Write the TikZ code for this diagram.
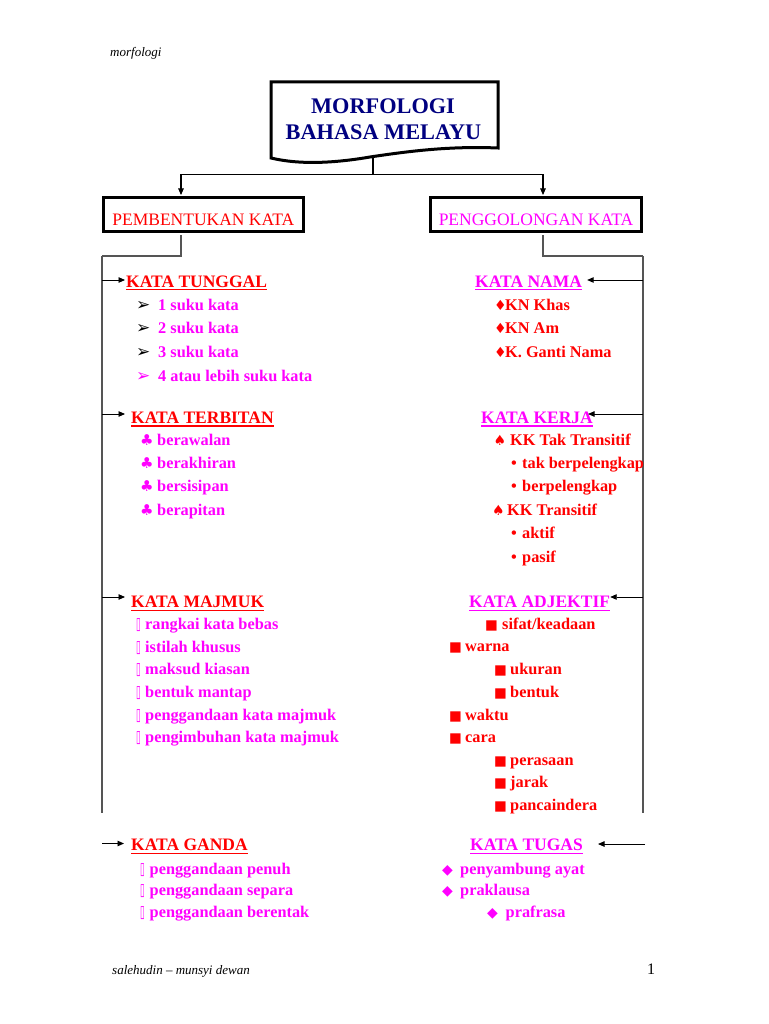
\documentclass[tikz,border=0pt]{standalone}
\usepackage{fontspec}
\usepackage{graphicx}
\setmainfont{Liberation Serif}
\newfontfamily\symf{DejaVu Sans}
\usetikzlibrary{arrows.meta}
\definecolor{navy}{RGB}{0,0,128}
\definecolor{mag}{RGB}{255,0,255}
\definecolor{rd}{RGB}{255,0,0}
\definecolor{sidegray}{RGB}{85,85,85}
\newcommand{\missbox}{{\symf\fontsize{17}{17}\selectfont\scalebox{0.5}[1]{▯}}}
\begin{document}
\begin{tikzpicture}[x=1pt,y=-1pt,
  item/.style={anchor=base west, inner sep=0pt, font=\fontsize{16.3}{18}\selectfont\bfseries},
  hd/.style={anchor=base west, inner sep=0pt, font=\fontsize{17.5}{20}\selectfont\bfseries},
  bul/.style={anchor=base west, inner sep=0pt},
  box/.style={draw=black, line width=3pt, inner sep=0pt, text height=21.4pt, text depth=0pt,
              font=\fontsize{17.5}{20}\selectfont},
  arr/.style={-{Triangle[length=6.5pt,width=5.5pt]}, line width=0.9pt, draw=black},
  conn/.style={line width=1.1pt, draw=black},
  side/.style={line width=1.6pt, draw=sidegray},
  ttl/.style={anchor=base, inner sep=0pt, text=navy, font=\fontsize{22.3}{26}\selectfont\bfseries}
]
\useasboundingbox[fill=white] (0,0) rectangle (768,1024);

% header / footer
\node[anchor=base west, inner sep=0pt, font=\fontsize{13}{15}\selectfont\itshape] (hdr) at (110,57) {morfologi};
\node[anchor=base west, inner sep=0pt, font=\fontsize{13}{15}\selectfont\itshape] (ftr) at (112,974) {salehudin – munsyi dewan};
\node[anchor=base west, inner sep=0pt, font=\fontsize{16}{18}\selectfont] (pg) at (647,974) {1};

% title
\draw[line width=3pt, line join=miter] (271,82) -- (498,82) -- (498,148)
  .. controls (450,146) and (410,151) .. (370,157)
  .. controls (335,163) and (300,165) .. (271,158) -- cycle;
\node[ttl] (ttlA) at (383,114) {MORFOLOGI};
\node[ttl] (ttlB) at (383.5,140) {BAHASA MELAYU};

% main boxes
\node[box, text=rd, minimum width=200, minimum height=34] (pemb) at (203.3,215) {PEMBENTUKAN KATA};
\node[box, text=mag, minimum width=211, minimum height=34] (peng) at (536,215) {PENGGOLONGAN KATA};

% top connectors
\coordinate (tstem) at (373,157);
\coordinate (tbar) at (373,174.5);
\draw[conn] (tstem) -- (tbar);
\draw[conn] (tbar) -| ([xshift=-22.3pt,yshift=4pt]pemb.north);
\draw[conn] (tbar) -| ([xshift=7pt,yshift=4pt]peng.north);
\draw[arr] ([xshift=-22.3pt,yshift=12pt]pemb.north) -- ([xshift=-22.3pt,yshift=1.5pt]pemb.north);
\draw[arr] ([xshift=7pt,yshift=12pt]peng.north) -- ([xshift=7pt,yshift=1.5pt]peng.north);

% side lines
\coordinate (jL) at (102,256);
\coordinate (jLend) at (102,813);
\coordinate (jR) at (643,256);
\coordinate (jRend) at (643,813);
\draw[side, line width=1.3pt] ([xshift=-22.3pt,yshift=-1.5pt]pemb.south) |- (jL);
\draw[side] (jL) -- (jLend);
\draw[side, line width=1.3pt] ([xshift=7pt,yshift=-1.5pt]peng.south) |- (jR);
\draw[side] (jR) -- (jRend);

% ---------- headings
\node[hd, text=rd] (tunggal) at (126,287) {KATA TUNGGAL};
\node[hd, text=rd] (terbitan) at (131,423.5) {KATA TERBITAN};
\node[hd, text=rd] (majmuk) at (131,607.7) {KATA MAJMUK};
\node[hd, text=rd] (ganda) at (131,850.7) {KATA GANDA};
\node[hd, text=mag] (nama) at (475,287) {KATA NAMA};
\node[hd, text=mag] (kerja) at (481,423.5) {KATA KERJA};
\node[hd, text=mag] (adjektif) at (469,607.7) {KATA ADJEKTIF};
\node[hd, text=mag] (tugas) at (470,850.7) {KATA TUGAS};
\foreach \n/\c in {tunggal/rd,terbitan/rd,majmuk/rd,ganda/rd,nama/mag,kerja/mag,adjektif/mag,tugas/mag}
  \draw[\c, line width=1.2pt] ([yshift=-2.4pt]\n.base west) -- ([yshift=-2.4pt]\n.base east);

% ---------- arrows into headings
\coordinate (aL1) at (102,280);
\coordinate (aL2) at (102,414);
\coordinate (aL3) at (102,597);
\coordinate (aL4) at (102,843.5);
\coordinate (aR1) at (643,280);
\coordinate (aR2) at (643,414);
\coordinate (aR3) at (643,597);
\coordinate (aR4) at (645,844);
\draw[arr, shorten >=1pt] (aL1) -- (aL1 -| tunggal.west);
\draw[arr, shorten >=6pt] (aL2) -- (aL2 -| terbitan.west);
\draw[arr, shorten >=6pt] (aL3) -- (aL3 -| majmuk.west);
\draw[arr, shorten >=7pt] (aL4) -- (aL4 -| ganda.west);
\draw[arr, shorten >=5pt] (aR1) -- (aR1 -| nama.east);
\draw[arr, shorten >=-5pt] (aR2) -- (aR2 -| kerja.east);
\draw[arr] (aR3) -- (aR3 -| adjektif.east);
\draw[arr, shorten >=15pt] (aR4) -- (aR4 -| tugas.east);

% ---------- KATA TUNGGAL items
\foreach \y/\t/\c [count=\i] in {310.5/1 suku kata/black, 333.5/2 suku kata/black, 357.5/3 suku kata/black, 381.5/4 atau lebih suku kata/mag}{
  \node[bul, text=\c] (tgb\i) at (136,\y) {\symf\fontsize{17}{17}\selectfont ➢};
  \node[item, text=mag] (tgt\i) at (158,\y) {\t};
}
% ---------- KATA TERBITAN items
\foreach \y/\t [count=\i] in {445/berawalan, 468/berakhiran, 491.5/bersisipan, 515/berapitan}{
  \node[bul, text=mag] (tbb\i) at (140,\y) {\symf\fontsize{15}{15}\selectfont ♣};
  \node[item, text=mag] (tbt\i) at (157,\y) {\t};
}
% ---------- KATA MAJMUK items
\foreach \y/\t [count=\i] in {629.5/rangkai kata bebas, 652/istilah khusus, 674.5/maksud kiasan, 697.5/bentuk mantap, 720.3/penggandaan kata majmuk, 742.7/pengimbuhan kata majmuk}{
  \node[bul, text=mag] (mjb\i) at (136,\y) {\missbox};
  \node[item, text=mag] (mjt\i) at (145,\y) {\t};
}
% ---------- KATA GANDA items
\foreach \y/\t [count=\i] in {874.3/penggandaan penuh, 895.7/penggandaan separa, 917.3/penggandaan berentak}{
  \node[bul, text=mag] (gdb\i) at (140,\y) {\missbox};
  \node[item, text=mag] (gdt\i) at (149.5,\y) {\t};
}
% ---------- KATA NAMA items
\foreach \y/\t [count=\i] in {310.5/KN Khas, 333.5/KN Am, 357/K. Ganti Nama}{
  \node[bul, text=rd] (nmb\i) at (494,\y) {\symf\fontsize{14}{14}\selectfont ♦};
  \node[item, text=rd] (nmt\i) at (505,\y) {\t};
}
% ---------- KATA KERJA items
\node[bul, text=rd] (kjb1) at (493.5,445) {\symf\fontsize{14}{14}\selectfont ♠};
\node[item, text=rd] (kjt1) at (510,445) {KK Tak Transitif};
\node[item, text=rd] (kjb2) at (511,468) {•};
\node[item, text=rd] (kjt2) at (522,468) {tak berpelengkap};
\node[item, text=rd] (kjb3) at (511,491.5) {•};
\node[item, text=rd] (kjt3) at (522,491.5) {berpelengkap};
\node[bul, text=rd] (kjb4) at (492,515) {\symf\fontsize{14}{14}\selectfont ♠};
\node[item, text=rd] (kjt4) at (507,515) {KK Transitif};
\node[item, text=rd] (kjb5) at (511,538.5) {•};
\node[item, text=rd] (kjt5) at (522,538.5) {aktif};
\node[item, text=rd] (kjb6) at (511,562) {•};
\node[item, text=rd] (kjt6) at (522,562) {pasif};

% ---------- KATA ADJEKTIF items
\foreach \y/\t/\xb/\xt [count=\i] in {629/sifat\slash keadaan/485/502, 651.8/warna/449/465, 674.5/ukuran/494/510, 697.3/bentuk/494/510, 720/waktu/449/465, 742.5/cara/449/465, 765/perasaan/494/510, 787.5/jarak/494/510, 810/pancaindera/494/510}{
  \node[bul, text=rd] (adb\i) at (\xb,\y) {\symf\fontsize{13.5}{13.5}\selectfont ■};
  \node[item, text=rd] (adt\i) at (\xt,\y) {\t};
}
% ---------- KATA TUGAS items
\foreach \y/\t/\xb/\xt [count=\i] in {874.3/penyambung ayat/442/460, 895.7/praklausa/442/460, 917.3/prafrasa/487/505.5}{
  \node[bul, text=mag] (tgsb\i) at (\xb,\y) {\symf\fontsize{14}{14}\selectfont ◆};
  \node[item, text=mag] (tgst\i) at (\xt,\y) {\t};
}
\end{tikzpicture}
\end{document}
